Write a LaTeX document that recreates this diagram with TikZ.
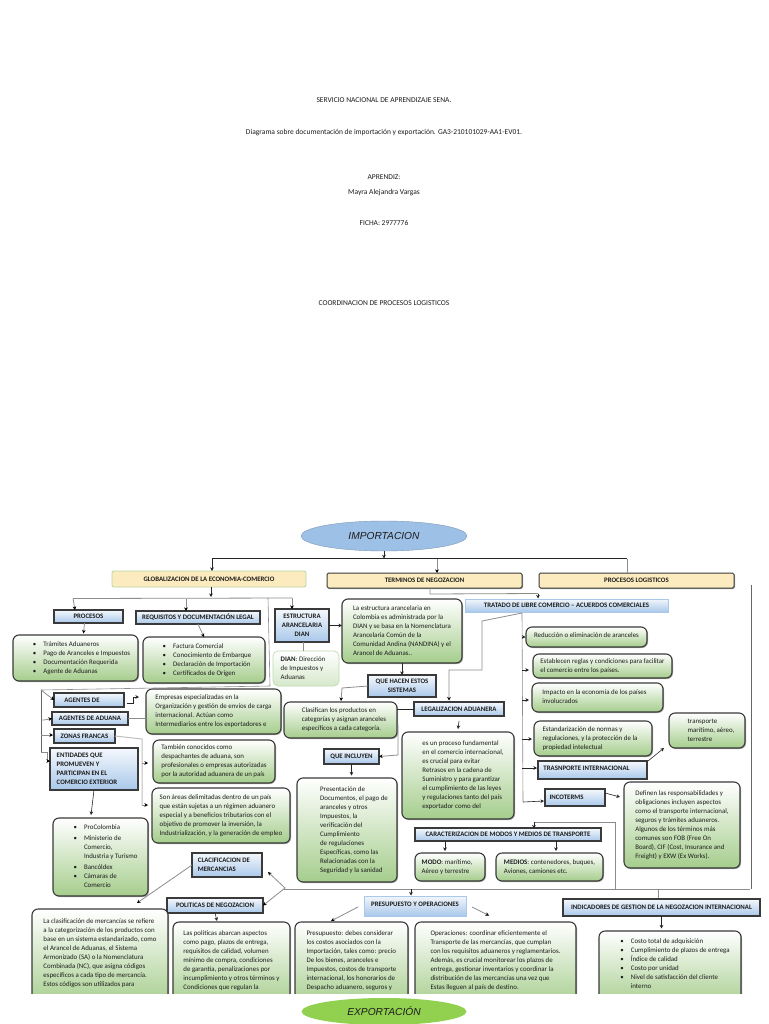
\documentclass[tikz,border=0pt]{standalone}
\usepackage{fontspec}
\setmainfont{Carlito}
\newfontfamily\arialf{Liberation Sans}
\usetikzlibrary{arrows.meta,shadows,shapes.geometric}
\definecolor{ink}{HTML}{1C1C1C}
\definecolor{edge}{HTML}{3A3A3A}
\definecolor{gbot}{HTML}{A5CD8C}
\definecolor{bbot}{HTML}{A9C8EA}
\definecolor{cream}{HTML}{FCEBBE}
\definecolor{ovalblue}{HTML}{9DC0E6}
\definecolor{ovalgreen}{HTML}{92D050}
\newcommand\blt{\makebox[10.5pt][l]{•}}
\newcommand\bind{\hspace*{10.5pt}}
\newcommand\shiftx[2]{\hspace*{\dimexpr 2\dimexpr #1\relax\relax}\begin{tabular}[c]{@{}l@{}}#2\end{tabular}}
\newcommand\bx[7][]{\node[#1,minimum width={#5pt-#3pt},minimum height={#6pt-#4pt}] (#2) at ({(#3+#5)/2},{(#4+#6)/2}) {#7};}
\tikzset{
  base/.style={inner sep=0pt,outer sep=0pt,text=ink,align=left,font=\fontsize{6.9}{9}\selectfont},
  sh/.style={drop shadow={shadow xshift=1pt,shadow yshift=-1pt,fill=black!50,opacity=.7}},
  greenbox/.style={base,rounded corners=6pt,draw=edge,line width=1.1pt,top color=white,bottom color=gbot,sh},
  paleg/.style={base,rounded corners=5pt,draw=gbot!70,line width=.7pt,top color=white,bottom color=gbot!45},
  bluebox/.style={base,draw=edge,line width=1.2pt,top color=bbot!12,bottom color=bbot,sh,font=\fontsize{6.8}{9}\bfseries\selectfont,align=center},
  softblue/.style={base,draw=bbot,line width=.6pt,top color=bbot!15,bottom color=bbot,drop shadow={shadow xshift=1pt,shadow yshift=-1pt,fill=black!25},font=\fontsize{6.8}{9}\bfseries\selectfont,align=center},
  yellowbox/.style={base,rounded corners=1.5pt,draw=edge,line width=1pt,fill=cream,sh,font=\fontsize{6.8}{9}\bfseries\selectfont,align=center},
  yellowsoft/.style={base,rounded corners=2pt,draw=gbot!80,line width=.8pt,fill=cream,font=\fontsize{6.8}{9}\bfseries\selectfont,align=center},
  toptext/.style={inner sep=0pt,text=ink,font=\fontsize{7.5}{9}\selectfont},
  ovalbox/.style={ellipse,inner sep=0pt,text=ink,font=\arialf\fontsize{10.2}{11}\itshape\selectfont},
  ln/.style={draw=black!85,line width=.6pt},
  lng/.style={draw=black!45,line width=.8pt},
  arr/.style={ln,-{Stealth[length=3.6pt,width=3.6pt]}},
  arrg/.style={lng,-{Stealth[length=3.6pt,width=3.6pt,color=black]}},
}
\begin{document}
\begin{tikzpicture}[x=1pt,y=-1pt]
\useasboundingbox (0,0) rectangle (768,1024);
\fill[white] (0,0) rectangle (768,1024);

% header
\node[toptext] (t1) at (384,100) {SERVICIO NACIONAL DE APRENDIZAJE SENA.};
\node[toptext] (t2) at (384,133) {Diagrama sobre documentación de importación y exportación. GA3-210101029-AA1-EV01.};
\node[toptext] (t3) at (384,177) {APRENDIZ:};
\node[toptext] (t4) at (384,193) {Mayra Alejandra Vargas};
\node[toptext] (t5) at (384,223) {FICHA: 2977776};
\node[toptext] (t6) at (384,303) {COORDINACION DE PROCESOS LOGISTICOS};

% ovals
\node[ovalbox,fill=ovalblue,draw=ovalblue!80!black,line width=.4pt,minimum width=166pt,minimum height=30pt] (imp) at (384,536) {IMPORTACION};
\node[ovalbox,fill=ovalgreen,minimum width=165pt,minimum height=27pt] (exp) at (384,1011.5) {EXPORTACIÓN};

% free junctions
\coordinate (busa) at (212,558.5);
\coordinate (busb) at (627,558.5);
\coordinate (busc) at (73,598.5);
\coordinate (busd) at (292,598);
\coordinate (bke) at (268,598);
\coordinate (bkf) at (270,686);
\coordinate (bkg) at (41,690);
\coordinate (bkh) at (41,752);
\coordinate (busf) at (284,889);
\coordinate (busg) at (750,889);
\coordinate (vtop) at (522,613);
\coordinate (vbot) at (523,802);
\coordinate (zx) at (142,739);
\coordinate (hub) at (285,888);
\coordinate (rtop) at (751,585);

% top row
\bx[yellowsoft]{glob}{112}{571}{306}{587}{GLOBALIZACION DE LA ECONOMIA-COMERCIO}
\bx[yellowbox]{term}{327}{573}{522}{588}{TERMINOS DE NEGOZACION}
\bx[yellowbox]{plog}{539}{573}{734}{588}{PROCESOS LOGISTICOS}

% left column
\bx[bluebox]{proc}{54}{610}{123}{623}{PROCESOS}
\bx[bluebox]{requ}{136}{611}{260}{624}{REQUISITOS Y DOCUMENTACIÓN LEGAL}
\bx[greenbox]{lista}{13}{635}{138}{681}{\shiftx{6pt}{\blt Trámites Aduaneros\\\blt Pago de Aranceles e Impuestos\\\blt Documentación Requerida\\\blt Agente de Aduanas}}
\bx[greenbox]{listb}{143}{637}{265}{683}{\shiftx{3pt}{\blt Factura Comercial\\\blt Conocimiento de Embarque\\\blt Declaración de Importación\\\blt Certificados de Origen}}
\bx[bluebox]{estr}{275}{609}{329}{642}{ESTRUCTURA\\ARANCELARIA\\DIAN}
\bx[paleg]{dian}{273}{651}{339}{686}{\shiftx{-3pt}{\textbf{DIAN}: Dirección\\de Impuestos y\\Aduanas}}
\bx[greenbox]{estx}{342}{599}{462}{663}{La estructura arancelaria en\\Colombia es administrada por la\\DIAN y se basa en la Nomenclatura\\Arancelaria Común de la\\Comunidad Andina (NANDINA) y el\\Arancel de Aduanas..}
\bx[bluebox]{hacen}{368}{675}{436}{697}{QUE HACEN ESTOS\\SISTEMAS}
\bx[greenbox]{clas}{284}{702}{397}{738}{\shiftx{3.5pt}{Clasifican los productos en\\categorías y asignan aranceles\\específicos a cada categoría.}}
\bx[bluebox]{lega}{414}{702}{504}{716}{LEGALIZACION ADUANERA}
\bx[greenbox]{legx}{402}{732}{514}{819}{\shiftx{5pt}{es un proceso fundamental\\en el comercio internacional,\\es crucial para evitar\\Retrasos en la cadena de\\Suministro y para garantizar\\el cumplimiento de las leyes\\y regulaciones tanto del país\\exportador como del}}
\bx[bluebox]{incl}{324}{749}{379}{764}{QUE INCLUYEN}
\bx[greenbox]{pres}{297}{778}{397}{882}{\shiftx{7pt}{Presentación de\\Documentos, el pago de\\aranceles y otros\\Impuestos, la\\verificación del\\Cumplimiento\\de regulaciones\\Específicas, como las\\Relacionadas con la\\Seguridad y la sanidad}}

\bx[bluebox]{aga}{54}{693}{124}{707}{\hspace*{-14pt}AGENTES DE}
\bx[bluebox]{agb}{52}{712}{128}{725}{AGENTES DE ADUANA}
\bx[bluebox]{zon}{54}{729}{115}{743}{ZONAS FRANCAS}
\bx[bluebox,align=left]{ent}{50}{748}{138}{790}{\shiftx{-7pt}{ENTIDADES QUE\\PROMUEVEN Y\\PARTICIPAN EN EL\\COMERCIO EXTERIOR}}
\bx[greenbox]{emp}{146}{689}{281}{734}{Empresas especializadas en la\\Organización y gestión de envíos de carga\\internacional. Actúan como\\Intermediarios entre los exportadores e}
\bx[greenbox]{tam}{153}{740}{275}{783}{También conocidos como\\despachantes de aduana, son\\profesionales o empresas autorizadas\\por la autoridad aduanera de un país}
\bx[greenbox]{area}{152}{788}{290}{843}{Son áreas delimitadas dentro de un país\\que están sujetas a un régimen aduanero\\especial y a beneficios tributarios con el\\objetivo de promover la inversión, la\\Industrialización, y la generación de empleo}
\bx[greenbox]{proco}{53}{818}{148}{896}{\shiftx{5pt}{\blt ProColombia\\[2pt]\blt Ministerio de\\\bind Comercio,\\\bind Industria y Turismo\\[2pt]\blt Bancóldex\\\blt Cámaras de\\\bind Comercio}}
\bx[bluebox,align=left]{clac}{192}{853}{262}{877}{\shiftx{-3pt}{CLACIFICACION DE\\MERCANCIAS}}
\bx[bluebox]{poli}{167}{898}{263}{913}{POLITICAS DE NEGOZACION}

% right column
\bx[softblue]{trat}{465}{599}{668}{612}{TRATADO DE LIBRE COMERCIO – ACUERDOS COMERCIALES}
\bx[greenbox]{redu}{526}{627}{647}{647}{\raisebox{3pt}{Reducción o eliminación de aranceles}}
\bx[greenbox]{esta}{533}{654}{672}{678}{Establecen reglas y condiciones para facilitar\\el comercio entre los países.}
\bx[greenbox]{impa}{532}{683}{663}{712}{\shiftx{-3pt}{Impacto en la economía de los países\\involucrados}}
\bx[greenbox]{norm}{534}{721}{652}{756}{\shiftx{-3pt}{Estandarización de normas y\\regulaciones, y la protección de la\\propiedad intelectual}}
\bx[greenbox]{marit}{669}{713}{745}{748}{\shiftx{4pt}{transporte\\marítimo, aéreo,\\terrestre}}
\bx[bluebox,align=left]{tint}{538}{761}{647}{779}{\hspace*{-12pt}\raisebox{3pt}{TRASNPORTE INTERNACIONAL}}
\bx[bluebox,align=left]{inco}{545}{789}{605}{806}{\hspace*{-17pt}INCOTERMS}
\bx[greenbox]{defi}{624}{782}{740}{868}{Definen las responsabilidades y\\obligaciones incluyen aspectos\\como el transporte internacional,\\seguros y trámites aduaneros.\\Algunos de los términos más\\comunes son FOB (Free On\\Board), CIF (Cost, Insurance and\\Freight) y EXW (Ex Works).}
\bx[bluebox]{cara}{415}{828}{601}{841}{CARACTERIZACION DE MODOS Y MEDIOS DE TRANSPORTE}
\bx[greenbox]{modo}{415}{853}{485}{881}{\shiftx{-3pt}{\textbf{MODO}: marítimo,\\Aéreo y terrestre}}
\bx[greenbox]{medi}{496}{853}{603}{881}{\textbf{MEDIOS}: contenedores, buques,\\Aviones, camiones etc.}
\bx[softblue]{ppto}{364}{896}{466}{916}{\raisebox{3pt}{PRESUPUESTO Y OPERACIONES}}
\bx[bluebox]{indi}{563}{899}{760}{916}{INDICADORES DE GESTION DE LA NEGOZACION INTERNACIONAL}

% boxes cut by the page crop
\begin{scope}
\clip (0,0) rectangle (768,993);
\bx[greenbox]{cmer}{32}{909}{168}{1008}{La clasificación de mercancías se refiere\\a la categorización de los productos con\\base en un sistema estandarizado, como\\el Arancel de Aduanas, el Sistema\\Armonizado (SA) o la Nomenclatura\\Combinada (NC), que asigna códigos\\específicos a cada tipo de mercancía.\\Estos códigos son utilizados para\\[3pt]\mbox{}}
\bx[greenbox]{pols}{173}{922}{290}{1008}{Las políticas abarcan aspectos\\como pago, plazos de entrega,\\requisitos de calidad, volumen\\mínimo de compra, condiciones\\de garantía, penalizaciones por\\incumplimiento y otros términos y\\Condiciones que regulan la\\[1pt]\mbox{}}
\bx[greenbox]{ptox}{295}{922}{408}{1008}{Presupuesto: debes considerar\\los costos asociados con la\\Importación, tales como: precio\\De los bienes, aranceles e\\Impuestos, costos de transporte\\internacional, los honorarios de\\Despacho aduanero, seguros y\\[0pt]\mbox{}}
\bx[greenbox]{oper}{415}{922}{576}{1008}{Operaciones: coordinar eficientemente el\\Transporte de las mercancías, que cumplan\\con los requisitos aduaneros y reglamentarios.\\Además, es crucial monitorear los plazos de\\entrega, gestionar inventarios y coordinar la\\distribución de las mercancías una vez que\\Estas lleguen al país de destino.\\[1pt]\mbox{}}
\bx[greenbox]{lind}{599}{931}{741}{1008}{\shiftx{5pt}{\blt Costo total de adquisición\\\blt Cumplimiento de plazos de entrega\\\blt Índice de calidad\\\blt Costo por unidad\\\blt Nivel de satisfacción del cliente\\\bind interno\\[1pt]\mbox{}}}
\end{scope}

% connectors: main bus
\draw[ln,line width=.8pt] (busa) -- (busb);
\draw[arr] (imp.south) -- (imp.south |- busa);
\draw[arr] (busa) -- (busa |- glob.north);
\draw[arrg] (term.north -| 437,0) ++(0,-14) -- ([xshift=12.5pt]term.north);
\draw[lng] (busb) -- ([xshift=-9.5pt]plog.north);
\draw[arr] ([xshift=2pt]glob.south) -- ++(0,10);
\draw[lng] (busc) -- (busd);
\draw[arrg] (busc) -- ([xshift=-13.5pt]proc.north);
\draw[arrg] ([xshift=-12pt]requ.north |- busc) -- ([xshift=-12pt]requ.north);
\draw[arrg] (busd) -- (busd |- estr.north);
\draw[arrg] ([xshift=-4pt]proc.south) -- ++(-1,10.5);
\draw[arrg] (requ.south) -- (listb.north);
\draw[lng] ([xshift=1pt]estr.south) -- ([xshift=-3pt]dian.north);
\draw[arr] (estr.east) -- (estx.west |- estr.east);
\draw[arr] (estx.south -| hacen.north) -- (hacen.north);
\draw[arrg] (hacen.west) -- (342,688) -- (341,701);
\draw[ln,line width=.9pt] (clas.east |- lega.west) -- (lega.west);
\draw[arrg] (398,725) -- (398,755) -- (incl.east);
\draw[arr] (incl.south) -- ++(0,11.5);
\draw[arr] ([yshift=-5pt]lega.south) -- ([yshift=3pt]legx.north);

% bracket on the left
\draw[lng,line width=.6pt] (bke) -- (bkf) -- (bkg);
\draw[ln,draw=black!60] (bkg) -- (bkh);
\draw[arrg] (bkg) -- (aga.west);
\draw[arrg] (41,720) -- (44,720) -- (agb.west);
\draw[arrg] (41,735) -- (53,735);
\draw[arrg] (bkh) -- (47,752) -- (47,761) -- (ent.west |- 0,761);
\draw[arr] (127,703) -- (133,703) -- (133,697) -- (139,697);
\draw[lng] (agb.east) -- (emp.west |- agb.east);
\draw[lng,line width=1pt,draw=black!25] (zon.east) -- (zx) -- (142,805);
\draw[arrg] (142,763) -- (148,763);
\draw[arrg] (142,805) -- (148,805);
\draw[arr] (ent.south) -- (91,815);
\draw[arrg] (clac.west) -- (137,903);
\draw[arrg] (hub) -- (268,872);
\draw[arrg] (hub) -- (poli.east);
\draw[arr] (poli.south) -- (217,921);
\draw[lng,line width=1pt] (busf) -- (busg);
\draw[arr] (411,889) -- (411,895.5);
\draw[arrg] (358,907) -- (331,921);
\draw[arrg] (472,907) -- (489,915.5);
\draw[lng] (658,889) -- (658,898);
\draw[arr] (indi.south) -- ++(0,12.5);

% right connectors
\draw[lng] (430,588) -- (430,594) -- (538,593.5);
\draw[arr] (538,593.5) -- (538,598.5);
\draw[arrg] (vtop) -- (482,621) -- (482,670) -- (449,670) -- (449,700.5);
\draw[lng,line width=.6pt] (vtop) -- (vbot);
\draw[arr,line width=.8pt] (522,637) -- (525.5,637);
\draw[arr] (522,670) -- (529,670);
\draw[arr] (522,700) -- (529,700);
\draw[arr] (522,739) -- (532,739);
\draw[arr] (522,768) -- (537,768);
\draw[arr] (vbot) -- (544,801);
\draw[arr] (648,761) -- (664,748);
\draw[arr] (605,793) -- (620,797);
\draw[ln,draw=black!60] (rtop) -- (751,889);
\draw[lng,line width=.6pt] (615,822) -- (615,889);
\draw[lng,line width=.6pt] (615,822) -- (534,822);
\draw[arr] (534,822) -- (534,828.5);
\draw[arr] (445,841) -- (445,851);
\draw[arr] (556,841) -- (556,851);
\end{tikzpicture}
\end{document}
